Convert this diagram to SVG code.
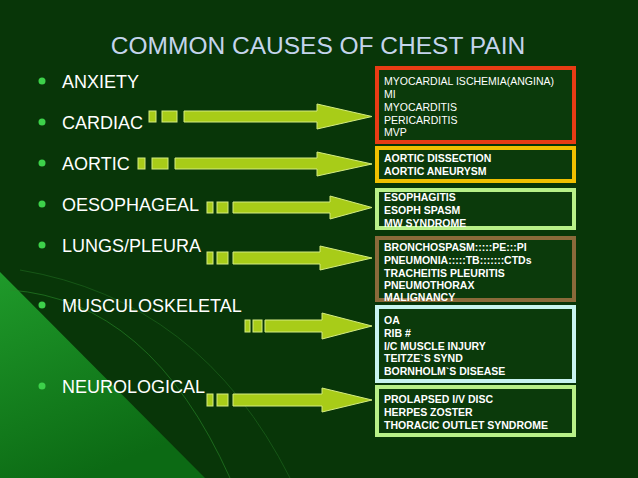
<svg xmlns="http://www.w3.org/2000/svg" width="638" height="478" viewBox="0 0 638 478">
<defs>
<linearGradient id="tri" x1="0" y1="0" x2="0.4" y2="1"><stop offset="0" stop-color="#1f9a2a"/><stop offset="1" stop-color="#0c6a14"/></linearGradient>
<style>
.b{font-family:"Liberation Sans",Arial,sans-serif;font-size:18px;fill:#ffffff}
.t{font-family:"Liberation Sans",Arial,sans-serif;font-size:10.5px;fill:#ffffff}
.tb{font-family:"Liberation Sans",Arial,sans-serif;font-size:10.5px;font-weight:bold;fill:#ffffff}
.box{fill:#0b3a0b;stroke-width:4}
.ar{fill:#a8cc18;stroke:#d4ec80;stroke-width:1}
.dot{fill:#3dd14a}
</style>
</defs>
<rect width="638" height="478" fill="#083608"/>
<path d="M0,272 L205,478 L0,478 Z" fill="url(#tri)"/>
<path d="M10,290 Q150,300 230,478" fill="none" stroke="#2a8a2a" stroke-width="1" opacity="0.6"/>
<path d="M20,270 Q200,300 290,478" fill="none" stroke="#1f6a1f" stroke-width="1" opacity="0.6"/>
<text x="318" y="54" text-anchor="middle" font-family="'Liberation Sans',Arial,sans-serif" font-size="24.5" fill="#c4d4ec">COMMON CAUSES OF CHEST PAIN</text>
<g id="bullets">
<circle class="dot" cx="42" cy="81" r="3.5"/><text class="b" x="62" y="88">ANXIETY</text>
<circle class="dot" cx="42" cy="122" r="3.5"/><text class="b" x="62" y="129">CARDIAC</text>
<circle class="dot" cx="42" cy="163" r="3.5"/><text class="b" x="62" y="170">AORTIC</text>
<circle class="dot" cx="42" cy="204" r="3.5"/><text class="b" x="62" y="211">OESOPHAGEAL</text>
<circle class="dot" cx="42" cy="245" r="3.5"/><text class="b" x="62" y="252">LUNGS/PLEURA</text>
<circle class="dot" cx="42" cy="305" r="3.5"/><text class="b" x="62" y="312">MUSCULOSKELETAL</text>
<circle class="dot" cx="42" cy="386" r="3.5"/><text class="b" x="62" y="393">NEUROLOGICAL</text>
</g>
<g id="connectors">
<g><rect class="ar" x="149" y="111" width="7" height="11"/><rect class="ar" x="162" y="111" width="15" height="11"/><path class="ar" d="M184,111 H317 V104 L372,116.5 L317,129 V122 H184 Z"/></g>
<g><rect class="ar" x="138" y="158" width="7" height="11"/><rect class="ar" x="152" y="158" width="16" height="11"/><path class="ar" d="M175,158 H317 V152 L372,164 L317,176 V169 H175 Z"/></g>
<g><rect class="ar" x="207" y="202" width="6" height="11"/><rect class="ar" x="217" y="202" width="11" height="11"/><path class="ar" d="M233,202 H330 V196 L372,207.5 L330,219 V213 H233 Z"/></g>
<g><rect class="ar" x="207" y="252" width="6" height="12"/><rect class="ar" x="217" y="252" width="11" height="12"/><path class="ar" d="M233,252 H320 V246 L372,258 L320,270 V264 H233 Z"/></g>
<g><rect class="ar" x="245" y="320" width="5" height="12"/><rect class="ar" x="253" y="320" width="9" height="12"/><path class="ar" d="M265,320 H322 V313 L372,326 L322,339 V332 H265 Z"/></g>
<g><rect class="ar" x="207" y="394" width="6" height="12"/><rect class="ar" x="217" y="394" width="11" height="12"/><path class="ar" d="M233,394 H322 V388 L372,400 L322,412 V406 H233 Z"/></g>
</g>
<g id="box1"><rect class="box" x="377" y="68" width="197" height="74" stroke="#e83c14"/>
<text class="t" x="384" y="85">MYOCARDIAL ISCHEMIA(ANGINA)</text><text class="t" x="384" y="98">MI</text><text class="t" x="384" y="111">MYOCARDITIS</text><text class="t" x="384" y="124">PERICARDITIS</text><text class="t" x="384" y="136">MVP</text></g>
<g id="box2"><rect class="box" x="377" y="148" width="197" height="33" stroke="#f0c000"/>
<text class="tb" x="384" y="162">AORTIC DISSECTION</text><text class="tb" x="384" y="175">AORTIC ANEURYSM</text></g>
<g id="box3"><rect class="box" x="377" y="190" width="197" height="38" stroke="#b8f088"/>
<text class="tb" x="384" y="201">ESOPHAGITIS</text><text class="tb" x="384" y="214">ESOPH SPASM</text><text class="tb" x="384" y="227">MW SYNDROME</text></g>
<g id="box4"><rect class="box" x="377" y="238" width="197" height="62" stroke="#8a6a3a"/>
<text class="tb" x="384" y="251">BRONCHOSPASM:::::PE:::PI</text><text class="tb" x="384" y="264">PNEUMONIA:::::TB:::::::CTDs</text><text class="tb" x="384" y="277">TRACHEITIS PLEURITIS</text><text class="tb" x="384" y="289">PNEUMOTHORAX</text><text class="tb" x="384" y="301">MALIGNANCY</text></g>
<g id="box5"><rect class="box" x="377" y="307" width="197" height="74" stroke="#c8f4f0"/>
<text class="tb" x="384" y="324">OA</text><text class="tb" x="384" y="337">RIB #</text><text class="tb" x="384" y="350">I/C MUSCLE INJURY</text><text class="tb" x="384" y="362">TEITZE`S SYND</text><text class="tb" x="384" y="375">BORNHOLM`S DISEASE</text></g>
<g id="box6"><rect class="box" x="377" y="387" width="197" height="48" stroke="#b8f088"/>
<text class="tb" x="384" y="403">PROLAPSED I/V DISC</text><text class="tb" x="384" y="416">HERPES ZOSTER</text><text class="tb" x="384" y="429">THORACIC OUTLET SYNDROME</text></g>
</svg>
